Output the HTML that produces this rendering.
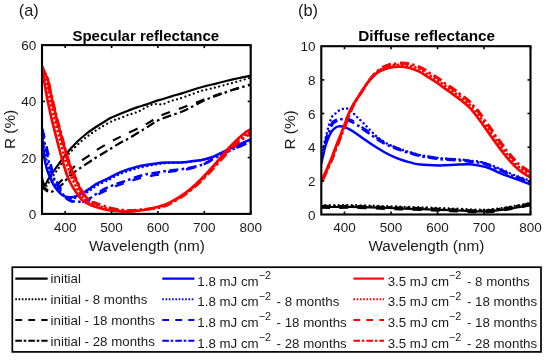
<!DOCTYPE html>
<html><head><meta charset="utf-8"><style>
html,body{margin:0;padding:0;background:#fff;width:550px;height:360px;overflow:hidden}
svg{display:block;filter:blur(0.35px)}
text{font-family:"Liberation Sans",sans-serif;fill:#1a1a1a}
.tk{font-size:13.5px}
.ax{font-size:15.3px}
.tt{font-size:15px;font-weight:bold;fill:#000}
.pl{font-size:16.4px}
.lg{font-size:13.3px}
.sup{font-size:10.8px}
</style></head><body>
<svg width="550" height="360" viewBox="0 0 550 360">
<defs><clipPath id="ca"><rect x="42.0" y="45.1" width="208.7" height="168.8"/></clipPath><clipPath id="cb"><rect x="321.3" y="46.2" width="209.2" height="168.3"/></clipPath></defs>
<g fill="none" stroke-width="2.2" stroke-linejoin="round">
<g clip-path="url(#ca)"><path d="M42.0,177.5 C42.2,178.5 43.0,182.0 43.5,183.3 C44.0,184.6 44.2,185.2 44.7,185.2 C45.2,185.2 45.5,184.4 46.2,183.2 C46.9,182.0 47.8,179.9 49.0,178.0 C50.2,176.1 52.0,173.5 53.3,171.6 C54.6,169.7 55.8,168.1 57.0,166.4 C58.2,164.7 59.0,163.7 60.6,161.5 C62.2,159.3 64.0,156.4 66.7,153.2 C69.4,150.0 73.4,145.5 76.7,142.2 C80.0,139.0 83.4,136.1 86.7,133.5 C90.0,130.9 93.8,128.4 96.7,126.5 C99.6,124.6 101.8,123.4 104.0,122.0 C106.2,120.6 107.7,119.5 110.0,118.3 C112.3,117.1 115.0,116.1 118.0,114.8 C121.0,113.5 124.8,111.9 128.0,110.7 C131.2,109.5 134.0,108.4 137.0,107.4 C140.0,106.4 143.0,105.6 146.0,104.6 C149.0,103.6 152.0,102.4 155.0,101.4 C158.0,100.4 161.2,99.6 164.0,98.7 C166.8,97.8 169.2,96.9 172.0,96.1 C174.8,95.2 178.0,94.5 181.0,93.6 C184.0,92.7 187.5,91.6 190.0,90.8 C192.5,90.0 193.5,89.5 196.0,88.7 C198.5,87.9 201.7,87.1 205.0,86.2 C208.3,85.3 212.7,84.4 216.0,83.6 C219.3,82.8 221.8,82.1 225.0,81.3 C228.2,80.5 231.7,79.7 235.0,78.9 C238.3,78.2 242.3,77.3 245.0,76.8 C247.7,76.3 250.0,75.9 251.0,75.7" stroke="#000" /><path d="M42.0,180.0 C42.3,180.9 43.4,184.2 44.0,185.3 C44.6,186.4 45.0,186.6 45.5,186.6 C46.0,186.6 46.5,186.2 47.2,185.2 C48.0,184.2 48.7,182.6 50.0,180.6 C51.3,178.6 53.3,175.7 55.0,173.3 C56.7,170.9 58.3,168.5 60.0,166.0 C61.7,163.5 63.3,160.7 65.0,158.5 C66.7,156.3 67.5,155.2 70.0,152.5 C72.5,149.9 76.7,145.4 80.0,142.4 C83.3,139.4 86.7,136.8 90.0,134.4 C93.3,132.0 96.3,130.1 100.0,127.9 C103.7,125.7 108.7,122.7 112.0,121.1 C115.3,119.5 117.2,119.3 120.0,118.2 C122.8,117.1 126.5,115.5 128.7,114.7 C130.9,113.9 131.6,114.0 133.0,113.5 C134.4,113.0 135.9,112.6 137.3,112.0 C138.7,111.4 140.0,110.7 141.3,110.0 C142.6,109.3 144.0,108.4 145.3,107.7 C146.6,107.0 148.0,106.3 149.3,105.7 C150.6,105.1 151.9,104.6 153.3,104.3 C154.8,104.0 156.5,104.0 158.0,104.0 C159.5,104.0 160.9,104.6 162.3,104.4 C163.7,104.2 164.9,103.4 166.3,102.8 C167.8,102.2 169.5,101.5 171.0,101.0 C172.5,100.5 173.9,100.3 175.3,99.9 C176.8,99.5 177.2,99.4 179.7,98.6 C182.1,97.8 186.4,96.2 190.0,94.9 C193.6,93.6 197.7,92.0 201.0,91.0 C204.3,90.0 207.7,89.4 210.0,88.8 C212.3,88.2 212.5,88.2 215.0,87.6 C217.5,86.9 221.7,85.8 225.0,84.9 C228.3,84.0 231.7,83.2 235.0,82.3 C238.3,81.4 242.3,80.2 245.0,79.4 C247.7,78.6 250.0,77.9 251.0,77.6" stroke="#000" stroke-dasharray="0.01 4.4" stroke-linecap="round"/><path d="M42.0,184.0 C42.3,184.6 43.2,186.4 44.0,187.3 C44.8,188.2 45.7,189.0 46.5,189.5 C47.3,190.0 48.2,190.2 49.0,190.2 C49.8,190.2 50.6,190.0 51.5,189.5 C52.4,189.0 53.5,188.0 54.5,187.2 C55.5,186.4 56.2,185.7 57.5,184.5 C58.8,183.3 60.2,181.7 62.0,180.0 C63.8,178.3 65.5,177.2 68.0,174.5 C70.5,171.8 73.6,166.9 76.7,164.0 C79.8,161.1 83.6,159.4 86.7,157.2 C89.8,155.0 91.4,153.3 95.6,150.7 C99.8,148.0 106.6,144.1 111.6,141.3 C116.6,138.6 120.2,136.9 125.8,134.2 C131.4,131.4 139.3,127.8 145.0,124.8 C150.7,121.8 154.0,118.8 160.0,116.0 C166.0,113.2 175.2,110.4 181.0,108.2 C186.8,106.0 191.0,104.5 195.0,103.0 C199.0,101.5 201.7,100.2 205.0,99.0 C208.3,97.8 211.7,96.7 215.0,95.6 C218.3,94.5 221.7,93.3 225.0,92.2 C228.3,91.1 231.7,90.0 235.0,89.0 C238.3,88.0 242.3,86.8 245.0,86.0 C247.7,85.2 250.0,84.6 251.0,84.3" stroke="#000" stroke-dasharray="9 9.3"/><path d="M42.0,185.0 C42.3,185.6 43.2,187.5 44.0,188.5 C44.8,189.5 46.0,190.4 47.0,191.0 C48.0,191.6 49.0,191.8 50.0,191.8 C51.0,191.8 51.8,191.7 53.0,191.2 C54.2,190.7 55.5,190.1 57.0,189.0 C58.5,187.9 60.3,186.2 62.0,184.5 C63.7,182.8 65.1,180.9 67.0,179.0 C68.9,177.1 70.6,175.2 73.3,173.0 C76.0,170.8 79.6,168.5 83.3,166.0 C87.0,163.5 91.9,160.1 95.6,157.8 C99.3,155.5 102.3,153.8 105.3,152.0 C108.2,150.2 110.6,148.7 113.3,147.1 C116.0,145.5 118.8,143.6 121.3,142.2 C123.8,140.8 124.0,141.1 128.0,138.8 C131.9,136.5 139.7,131.7 145.0,128.5 C150.3,125.3 154.0,122.2 160.0,119.5 C166.0,116.8 175.5,114.2 181.0,112.0 C186.5,109.8 189.0,108.3 193.0,106.3 C197.0,104.3 201.3,101.7 205.0,100.0 C208.7,98.3 211.7,97.4 215.0,96.2 C218.3,95.0 221.7,93.8 225.0,92.6 C228.3,91.4 231.7,90.3 235.0,89.3 C238.3,88.2 242.3,87.1 245.0,86.3 C247.7,85.5 250.0,85.0 251.0,84.7" stroke="#000" stroke-dasharray="9 3.2 2.6 3.5"/><path d="M42.3,136.0 C42.4,137.2 42.6,140.7 42.8,143.0 C43.0,145.3 43.1,147.7 43.4,150.0 C43.6,152.3 44.0,154.8 44.3,157.0 C44.6,159.2 44.9,160.8 45.4,163.0 C45.9,165.2 46.5,167.8 47.2,170.0 C47.9,172.2 48.5,173.8 49.4,176.0 C50.3,178.2 51.6,181.2 52.5,183.0 C53.4,184.8 54.2,185.8 55.0,187.0 C55.8,188.2 56.4,189.0 57.2,190.0 C58.0,191.0 59.0,192.1 60.0,193.0 C61.0,193.9 62.0,194.9 63.0,195.5 C64.0,196.1 65.0,196.5 66.0,196.8 C67.0,197.1 68.0,197.2 69.0,197.3 C70.0,197.4 70.9,197.3 72.0,197.2 C73.1,197.1 74.2,196.9 75.5,196.5 C76.8,196.1 78.0,195.5 79.8,194.6 C81.6,193.7 84.2,192.1 86.2,190.9 C88.2,189.7 89.9,188.5 91.6,187.3 C93.3,186.1 93.7,185.3 96.5,183.8 C99.3,182.3 104.4,180.2 108.3,178.3 C112.2,176.4 116.4,173.9 120.0,172.3 C123.6,170.7 126.7,169.9 130.0,168.8 C133.3,167.8 135.7,166.9 140.0,166.0 C144.3,165.1 151.3,164.0 156.0,163.4 C160.7,162.8 163.3,162.7 168.0,162.5 C172.7,162.3 178.8,162.5 183.9,162.2 C189.0,161.9 195.1,161.0 198.6,160.5 C202.1,160.0 202.4,159.9 205.0,159.2 C207.6,158.5 210.7,157.9 214.0,156.5 C217.3,155.1 220.7,153.1 225.0,151.0 C229.3,148.9 235.7,146.2 240.0,144.2 C244.3,142.2 249.2,140.0 251.0,139.2" stroke="#0000ff" stroke-width="2.5" /><path d="M42.3,133.4 C42.4,134.5 42.8,137.7 43.1,139.8 C43.4,142.0 43.6,144.1 44.0,146.5 C44.3,148.9 44.9,152.1 45.3,154.6 C45.8,157.0 46.2,159.0 46.7,161.2 C47.2,163.5 47.8,166.0 48.5,168.2 C49.1,170.5 49.8,172.4 50.6,174.6 C51.4,176.8 52.5,179.5 53.4,181.4 C54.4,183.4 55.4,184.9 56.3,186.3 C57.1,187.7 57.7,188.8 58.6,190.0 C59.5,191.2 60.6,192.8 61.5,193.8 C62.4,194.8 63.1,195.6 64.0,196.2 C64.9,196.8 66.0,197.3 67.0,197.6 C68.0,197.9 69.0,198.1 70.0,198.2 C71.0,198.3 71.9,198.3 73.0,198.2 C74.1,198.1 75.2,198.0 76.5,197.6 C77.8,197.2 78.8,196.8 80.5,196.0 C82.2,195.2 84.8,193.7 86.7,192.5 C88.6,191.3 90.3,190.2 92.0,189.0 C93.7,187.8 94.3,187.0 97.0,185.5 C99.7,184.0 104.5,181.9 108.3,180.0 C112.1,178.1 116.4,175.6 120.0,174.0 C123.6,172.4 126.7,171.5 130.0,170.4 C133.3,169.3 135.7,168.5 140.0,167.5 C144.3,166.5 151.3,165.2 156.0,164.4 C160.7,163.7 163.3,163.3 168.0,163.0 C172.7,162.7 178.8,162.8 183.9,162.4 C189.0,162.0 195.1,161.1 198.6,160.6 C202.1,160.1 202.4,160.0 205.0,159.3 C207.6,158.6 210.7,157.9 214.0,156.6 C217.3,155.2 220.7,153.2 225.0,151.2 C229.3,149.2 235.7,146.4 240.0,144.5 C244.3,142.6 249.2,140.3 251.0,139.5" stroke="#0000ff" stroke-width="2.5" stroke-dasharray="0.01 4.4" stroke-linecap="round"/><path d="M42.3,128.5 C42.5,129.4 43.1,132.1 43.6,134.0 C44.1,135.9 44.4,137.3 45.0,140.0 C45.6,142.7 46.6,147.0 47.3,150.0 C48.0,153.0 48.6,155.5 49.2,158.0 C49.8,160.5 50.2,162.7 50.8,165.0 C51.4,167.3 52.1,169.8 52.8,172.0 C53.5,174.2 54.2,176.3 55.2,178.5 C56.2,180.7 57.6,183.1 58.6,185.0 C59.6,186.9 60.5,188.4 61.2,190.0 C61.9,191.6 62.2,193.0 63.0,194.3 C63.8,195.6 65.0,197.0 66.0,198.0 C67.0,199.0 68.0,199.7 69.0,200.3 C70.0,200.9 70.8,201.2 72.0,201.6 C73.2,202.0 74.7,202.3 76.0,202.4 C77.3,202.6 78.6,202.6 80.0,202.4 C81.4,202.2 82.8,202.1 84.4,201.6 C86.0,201.0 87.8,200.3 89.8,199.3 C91.8,198.3 93.7,196.9 96.2,195.5 C98.7,194.1 101.9,192.3 105.0,190.8 C108.1,189.3 111.7,187.8 115.0,186.5 C118.3,185.2 121.7,184.1 125.0,182.9 C128.3,181.8 131.7,180.6 135.0,179.6 C138.3,178.6 141.5,177.7 145.0,176.9 C148.5,176.2 152.2,175.7 156.0,174.9 C159.8,174.1 163.5,172.8 168.0,172.0 C172.5,171.2 177.9,170.9 183.0,170.0 C188.1,169.1 194.9,167.4 198.6,166.3 C202.3,165.2 203.0,164.6 205.0,163.7 C207.0,162.7 207.5,162.4 210.4,160.8 C213.3,159.2 218.3,156.2 222.2,154.2 C226.1,152.2 230.1,150.6 234.0,148.9 C237.9,147.2 243.0,145.0 245.8,143.9 C248.6,142.8 250.1,142.6 251.0,142.4" stroke="#0000ff" stroke-width="2.5" stroke-dasharray="9 9.3"/><path d="M42.3,130.4 C42.5,131.4 43.0,134.2 43.4,136.2 C43.8,138.3 44.1,139.9 44.6,142.5 C45.1,145.1 45.9,149.0 46.5,151.8 C47.2,154.5 47.7,156.8 48.2,159.2 C48.8,161.7 49.3,164.0 49.9,166.2 C50.5,168.5 51.2,170.8 51.9,173.0 C52.7,175.2 53.6,177.5 54.5,179.6 C55.5,181.7 56.8,183.8 57.7,185.5 C58.6,187.2 59.4,188.6 60.2,190.0 C61.1,191.4 61.9,192.8 62.8,194.0 C63.7,195.2 64.8,196.5 65.8,197.4 C66.8,198.3 67.8,199.0 68.8,199.6 C69.8,200.2 70.6,200.5 71.8,200.9 C73.0,201.3 74.5,201.6 75.8,201.7 C77.1,201.9 78.4,201.9 79.8,201.7 C81.2,201.5 82.7,201.3 84.4,200.8 C86.1,200.2 87.8,199.4 89.8,198.3 C91.8,197.2 93.7,195.6 96.2,194.0 C98.7,192.4 101.9,190.3 105.0,188.7 C108.1,187.1 111.7,185.8 115.0,184.5 C118.3,183.2 121.7,182.3 125.0,181.1 C128.3,180.0 131.7,178.6 135.0,177.5 C138.3,176.4 141.5,175.3 145.0,174.5 C148.5,173.7 152.2,173.4 156.0,172.7 C159.8,172.1 163.5,171.2 168.0,170.6 C172.5,170.0 177.9,169.8 183.0,169.0 C188.1,168.2 194.9,166.8 198.6,165.8 C202.3,164.8 203.0,164.1 205.0,163.2 C207.0,162.4 207.5,162.1 210.4,160.5 C213.3,159.0 218.3,156.0 222.2,154.0 C226.1,152.1 230.1,150.5 234.0,148.8 C237.9,147.1 243.0,144.8 245.8,143.7 C248.6,142.6 250.1,142.4 251.0,142.2" stroke="#0000ff" stroke-width="2.5" stroke-dasharray="9 3.2 2.6 3.5"/><path d="M42.0,66.4 C42.2,67.0 42.4,67.7 43.4,70.0 C44.4,72.3 46.8,76.7 47.9,80.0 C49.0,83.3 49.2,86.7 49.9,90.0 C50.7,93.3 51.4,96.7 52.2,100.0 C53.0,103.3 53.8,106.7 54.6,110.0 C55.4,113.3 55.7,115.0 57.0,120.0 C58.3,125.0 60.6,133.3 62.4,140.0 C64.3,146.7 66.1,154.2 68.0,160.0 C69.9,165.8 72.2,171.2 73.8,175.0 C75.4,178.8 76.2,180.5 77.4,183.0 C78.6,185.5 78.9,187.2 80.8,190.0 C82.6,192.8 87.1,198.3 88.4,200.0" stroke="#ff0000" stroke-width="2.7" /><path d="M42.0,67.5 C42.0,67.9 41.9,67.9 42.2,70.0 C42.5,72.1 43.4,76.7 44.0,80.0 C44.6,83.3 45.1,86.7 45.7,90.0 C46.3,93.3 46.8,96.7 47.5,100.0 C48.2,103.3 49.0,106.7 49.7,110.0 C50.4,113.3 50.7,115.0 51.9,120.0 C53.1,125.0 55.3,133.3 57.0,140.0 C58.7,146.7 60.6,154.2 62.3,160.0 C64.0,165.8 65.6,171.2 67.0,175.0 C68.4,178.8 69.2,180.5 70.5,183.0 C71.8,185.5 72.7,187.2 74.6,190.0 C76.5,192.8 79.5,197.5 82.1,200.0 C84.7,202.5 87.0,203.4 90.0,204.8 C93.0,206.2 96.7,207.4 100.0,208.3 C103.3,209.2 106.7,209.9 110.0,210.4 C113.3,210.9 116.7,211.2 120.0,211.4 C123.3,211.6 126.7,211.8 130.0,211.6 C133.3,211.4 136.7,211.0 140.0,210.5 C143.3,210.0 146.7,209.4 150.0,208.7 C153.3,208.0 157.0,207.1 160.0,206.2 C163.0,205.3 164.7,205.1 168.0,203.5 C171.3,201.9 176.2,199.2 180.0,196.7 C183.8,194.2 187.3,191.6 191.0,188.5 C194.7,185.4 198.1,182.2 202.0,178.2 C205.9,174.3 210.7,169.1 214.5,164.7 C218.3,160.4 221.6,156.0 225.0,152.2 C228.4,148.4 231.7,144.9 235.0,141.7 C238.3,138.5 242.3,134.9 245.0,132.8 C247.7,130.8 250.0,129.8 251.0,129.2" stroke="#ff0000" stroke-width="2.7" /><path d="M42.0,66.9 C42.1,67.4 42.2,67.8 42.9,70.0 C43.5,72.2 45.2,76.7 46.1,80.0 C47.0,83.3 47.3,86.7 48.0,90.0 C48.7,93.3 49.3,96.7 50.0,100.0 C50.8,103.3 51.6,106.7 52.4,110.0 C53.1,113.3 53.4,115.0 54.6,120.0 C55.9,125.0 58.2,133.3 60.0,140.0 C61.7,146.7 63.6,154.2 65.4,160.0 C67.2,165.8 69.2,171.2 70.7,175.0 C72.2,178.8 73.0,180.5 74.2,183.0 C75.5,185.5 76.1,187.2 77.9,190.0 C79.8,192.8 83.0,197.7 85.5,200.0 C88.0,202.3 90.1,202.8 92.8,203.9 C95.4,205.1 98.5,206.0 101.5,206.9 C104.5,207.8 107.8,208.7 111.0,209.3 C114.2,209.9 117.8,210.4 121.0,210.7 C124.2,211.0 127.3,211.1 130.5,211.0 C133.7,210.9 136.8,210.5 140.0,210.1 C143.2,209.7 146.7,209.4 150.0,208.8 C153.3,208.2 157.0,207.6 160.0,206.8 C163.0,206.0 164.7,205.7 168.0,204.1 C171.3,202.5 176.2,199.8 180.0,197.3 C183.8,194.8 187.3,192.3 191.0,189.2 C194.7,186.2 198.1,183.1 202.0,179.2 C205.9,175.4 210.7,170.2 214.5,166.0 C218.3,161.7 221.6,157.6 225.0,153.8 C228.4,150.1 231.7,146.8 235.0,143.7 C238.3,140.6 242.3,137.1 245.0,135.1 C247.7,133.1 250.0,132.3 251.0,131.8" stroke="#ff0000" stroke-width="2.7" stroke-dasharray="0.01 4.4" stroke-linecap="round"/><path d="M42.0,66.5 C42.2,67.1 42.4,67.7 43.3,70.0 C44.2,72.3 46.5,76.7 47.6,80.0 C48.6,83.3 48.9,86.7 49.6,90.0 C50.3,93.3 51.1,96.7 51.8,100.0 C52.6,103.3 53.4,106.7 54.2,110.0 C55.0,113.3 55.3,115.0 56.6,120.0 C57.9,125.0 60.2,133.3 62.0,140.0 C63.8,146.7 65.6,154.2 67.5,160.0 C69.4,165.8 71.7,171.2 73.3,175.0 C74.8,178.8 75.7,180.5 76.9,183.0 C78.0,185.5 78.5,187.2 80.3,190.0 C82.1,192.8 85.5,197.8 87.9,200.0 C90.3,202.2 92.2,202.3 94.7,203.3 C97.1,204.3 99.7,205.0 102.5,205.9 C105.4,206.8 108.5,207.8 111.7,208.5 C114.9,209.2 118.5,209.9 121.7,210.2 C124.9,210.6 127.8,210.6 130.8,210.6 C133.9,210.5 136.8,210.1 140.0,209.8 C143.2,209.5 146.7,209.3 150.0,208.9 C153.3,208.4 157.0,207.9 160.0,207.2 C163.0,206.5 164.7,206.1 168.0,204.5 C171.3,202.9 176.2,200.2 180.0,197.7 C183.8,195.3 187.3,192.7 191.0,189.8 C194.7,186.8 198.1,183.8 202.0,179.9 C205.9,176.1 210.7,171.0 214.5,166.8 C218.3,162.7 221.6,158.6 225.0,155.0 C228.4,151.4 231.7,148.2 235.0,145.1 C238.3,142.0 242.3,138.6 245.0,136.7 C247.7,134.7 250.0,134.0 251.0,133.5" stroke="#ff0000" stroke-width="2.7" stroke-dasharray="9 9.3"/><path d="M42.0,66.3 C42.2,66.9 42.5,67.7 43.5,70.0 C44.5,72.3 47.1,76.7 48.2,80.0 C49.3,83.3 49.6,86.7 50.3,90.0 C51.0,93.3 51.8,96.7 52.6,100.0 C53.4,103.3 54.2,106.7 55.0,110.0 C55.8,113.3 56.1,115.0 57.4,120.0 C58.7,125.0 61.1,133.3 62.9,140.0 C64.7,146.7 66.5,154.2 68.5,160.0 C70.4,165.8 72.8,171.2 74.4,175.0 C76.0,178.8 76.8,180.5 78.0,183.0 C79.2,185.5 79.5,187.2 81.3,190.0 C83.1,192.8 86.5,197.8 88.9,200.0 C91.3,202.2 93.2,202.1 95.5,203.0 C97.8,203.9 100.2,204.6 103.0,205.5 C105.8,206.4 108.8,207.4 112.0,208.2 C115.2,208.9 118.8,209.6 122.0,210.0 C125.2,210.4 128.0,210.5 131.0,210.4 C134.0,210.3 136.8,209.9 140.0,209.7 C143.2,209.4 146.7,209.3 150.0,208.9 C153.3,208.5 157.0,208.1 160.0,207.4 C163.0,206.7 164.7,206.3 168.0,204.7 C171.3,203.1 176.2,200.3 180.0,197.9 C183.8,195.5 187.3,192.9 191.0,190.0 C194.7,187.1 198.1,184.0 202.0,180.2 C205.9,176.5 210.7,171.3 214.5,167.2 C218.3,163.1 221.6,159.1 225.0,155.5 C228.4,151.9 231.7,148.7 235.0,145.7 C238.3,142.7 242.3,139.3 245.0,137.3 C247.7,135.4 250.0,134.8 251.0,134.2" stroke="#ff0000" stroke-width="2.7" stroke-dasharray="9 3.2 2.6 3.5"/></g>
<g clip-path="url(#cb)"><path d="M321.0,206.8 C323.3,206.8 330.2,207.0 335.0,207.0 C339.8,207.0 344.2,206.8 350.0,206.9 C355.8,207.0 361.7,207.2 370.0,207.4 C378.3,207.7 390.3,208.1 400.0,208.4 C409.7,208.7 419.7,209.0 428.0,209.3 C436.3,209.6 442.0,209.9 450.0,210.2 C458.0,210.5 469.3,211.1 476.0,211.3 C482.7,211.5 485.2,211.6 490.0,211.2 C494.8,210.9 500.0,210.1 505.0,209.4 C510.0,208.7 515.7,207.6 520.0,206.8 C524.3,206.0 529.2,205.0 531.0,204.6" stroke="#000" /><path d="M321.0,205.0 C323.3,205.0 330.2,205.2 335.0,205.2 C339.8,205.2 344.2,205.0 350.0,205.1 C355.8,205.2 361.7,205.3 370.0,205.6 C378.3,205.8 390.3,206.3 400.0,206.6 C409.7,206.9 419.7,207.2 428.0,207.5 C436.3,207.8 442.0,208.1 450.0,208.4 C458.0,208.7 469.3,209.3 476.0,209.5 C482.7,209.7 485.2,209.7 490.0,209.4 C494.8,209.1 500.0,208.2 505.0,207.5 C510.0,206.7 515.7,205.7 520.0,204.9 C524.3,204.1 529.2,203.1 531.0,202.7" stroke="#000" stroke-dasharray="0.01 4.4" stroke-linecap="round"/><path d="M321.0,207.7 C323.3,207.7 330.2,207.9 335.0,207.9 C339.8,207.9 344.2,207.7 350.0,207.8 C355.8,207.9 361.7,208.1 370.0,208.3 C378.3,208.6 390.3,209.0 400.0,209.3 C409.7,209.6 419.7,209.9 428.0,210.2 C436.3,210.5 442.0,210.8 450.0,211.1 C458.0,211.4 469.3,212.1 476.0,212.2 C482.7,212.4 485.2,212.4 490.0,212.0 C494.8,211.6 500.0,210.8 505.0,210.0 C510.0,209.2 515.7,208.2 520.0,207.4 C524.3,206.6 529.2,205.6 531.0,205.2" stroke="#000" stroke-dasharray="9 9.3"/><path d="M321.0,205.9 C323.3,205.9 330.2,206.1 335.0,206.1 C339.8,206.1 344.2,205.9 350.0,206.0 C355.8,206.1 361.7,206.2 370.0,206.5 C378.3,206.8 390.3,207.2 400.0,207.5 C409.7,207.8 419.7,208.1 428.0,208.4 C436.3,208.7 442.0,209.0 450.0,209.3 C458.0,209.6 469.3,210.3 476.0,210.4 C482.7,210.5 485.2,210.5 490.0,210.1 C494.8,209.7 500.0,208.8 505.0,208.0 C510.0,207.2 515.7,206.2 520.0,205.4 C524.3,204.6 529.2,203.6 531.0,203.2" stroke="#000" stroke-dasharray="9 3.2 2.6 3.5"/><path d="M321.0,164.5 C321.3,163.1 322.3,159.0 323.0,156.0 C323.7,153.0 324.4,149.6 325.3,146.5 C326.2,143.4 327.4,140.0 328.5,137.5 C329.6,135.0 330.7,132.9 331.8,131.3 C332.9,129.7 333.9,128.8 335.0,128.0 C336.1,127.2 337.3,126.7 338.5,126.4 C339.7,126.1 340.8,126.3 342.0,126.4 C343.2,126.6 344.2,126.9 345.5,127.4 C346.8,128.0 348.4,128.8 350.0,129.7 C351.6,130.6 353.3,131.6 355.0,132.7 C356.7,133.8 358.3,135.0 360.0,136.2 C361.7,137.4 362.5,138.1 365.0,139.8 C367.5,141.6 371.7,144.4 375.0,146.5 C378.3,148.6 381.7,150.6 385.0,152.5 C388.3,154.3 391.7,156.0 395.0,157.4 C398.3,158.8 400.8,159.8 405.0,161.0 C409.2,162.2 414.2,163.9 420.0,164.6 C425.8,165.3 434.2,165.4 440.0,165.4 C445.8,165.4 450.0,164.9 455.0,164.7 C460.0,164.5 465.8,164.1 470.0,164.3 C474.2,164.5 476.7,165.1 480.0,165.8 C483.3,166.5 486.7,167.2 490.0,168.5 C493.3,169.7 496.7,171.7 500.0,173.1 C503.3,174.5 506.7,175.7 510.0,176.9 C513.3,178.1 516.5,179.2 520.0,180.4 C523.5,181.7 529.2,183.9 531.0,184.6" stroke="#0000ff" stroke-width="2.5" /><path d="M321.0,159.0 C321.3,157.4 322.3,152.8 323.0,149.5 C323.7,146.2 324.3,143.1 325.3,139.0 C326.3,134.9 327.9,128.8 329.0,125.0 C330.1,121.2 331.1,118.3 332.2,116.4 C333.3,114.5 334.5,114.4 335.6,113.4 C336.7,112.4 337.7,111.3 338.9,110.6 C340.1,109.8 341.5,109.3 342.8,108.9 C344.1,108.5 345.4,108.1 346.7,108.4 C348.0,108.7 349.4,109.7 350.6,110.6 C351.8,111.5 352.8,112.7 353.9,113.8 C355.0,114.9 356.1,116.1 357.2,117.2 C358.3,118.3 359.4,119.2 360.6,120.4 C361.8,121.5 363.2,122.9 364.4,124.1 C365.6,125.3 366.5,126.3 367.8,127.6 C369.1,129.0 370.8,130.7 372.2,132.1 C373.6,133.5 373.9,134.1 376.0,135.9 C378.1,137.6 381.8,140.6 385.0,142.5 C388.2,144.4 391.7,145.9 395.0,147.2 C398.3,148.6 400.8,149.4 405.0,150.7 C409.2,152.0 414.2,153.7 420.0,155.0 C425.8,156.3 433.3,157.4 440.0,158.2 C446.7,158.9 455.0,159.1 460.0,159.5 C465.0,159.9 466.7,160.3 470.0,160.7 C473.3,161.1 476.7,161.1 480.0,161.8 C483.3,162.5 486.7,163.7 490.0,164.8 C493.3,166.0 496.7,167.3 500.0,168.7 C503.3,170.1 506.7,171.9 510.0,173.3 C513.3,174.7 516.5,175.9 520.0,177.2 C523.5,178.5 529.2,180.3 531.0,180.9" stroke="#0000ff" stroke-width="2.5" stroke-dasharray="0.01 4.4" stroke-linecap="round"/><path d="M321.0,161.0 C321.3,159.5 322.2,155.6 323.0,152.0 C323.8,148.4 324.9,143.3 326.0,139.5 C327.1,135.7 328.4,131.8 329.5,129.0 C330.6,126.2 331.5,124.0 332.5,122.5 C333.5,121.0 334.6,120.9 335.6,120.2 C336.6,119.5 337.6,118.9 338.5,118.5 C339.4,118.1 340.1,117.7 341.1,117.6 C342.1,117.5 343.2,117.6 344.4,117.8 C345.5,118.0 346.7,118.3 348.0,118.8 C349.3,119.3 350.6,119.8 352.2,120.6 C353.8,121.4 355.9,122.6 357.8,123.9 C359.7,125.2 361.5,126.9 363.3,128.2 C365.1,129.5 367.0,130.6 368.9,131.9 C370.8,133.1 372.5,134.5 374.4,135.8 C376.2,137.2 377.4,138.4 380.0,139.9 C382.6,141.5 386.7,143.6 390.0,145.1 C393.3,146.6 396.7,148.0 400.0,149.2 C403.3,150.4 406.7,151.4 410.0,152.4 C413.3,153.4 415.0,154.2 420.0,155.2 C425.0,156.2 433.3,157.7 440.0,158.4 C446.7,159.1 455.0,159.2 460.0,159.6 C465.0,160.0 466.7,160.5 470.0,160.9 C473.3,161.3 476.7,161.3 480.0,162.0 C483.3,162.7 486.7,163.9 490.0,165.1 C493.3,166.3 496.7,167.9 500.0,169.4 C503.3,170.9 506.7,172.6 510.0,174.0 C513.3,175.4 516.5,176.7 520.0,178.0 C523.5,179.3 529.2,181.3 531.0,182.0" stroke="#0000ff" stroke-width="2.5" stroke-dasharray="9 9.3"/><path d="M321.0,162.0 C321.3,160.5 322.2,156.5 323.0,153.0 C323.8,149.5 324.9,144.8 326.0,141.0 C327.1,137.2 328.4,133.3 329.5,130.5 C330.6,127.7 331.5,125.5 332.5,124.0 C333.5,122.5 334.6,122.4 335.6,121.7 C336.6,121.0 337.6,120.4 338.5,120.0 C339.4,119.6 340.1,119.3 341.1,119.2 C342.1,119.1 343.2,119.2 344.4,119.4 C345.5,119.6 346.7,119.9 348.0,120.4 C349.3,120.9 350.6,121.4 352.2,122.2 C353.8,123.0 355.9,124.2 357.8,125.4 C359.7,126.6 361.5,128.3 363.3,129.6 C365.1,130.9 367.0,132.0 368.9,133.3 C370.8,134.5 372.5,135.8 374.4,137.1 C376.2,138.5 377.4,139.6 380.0,141.2 C382.6,142.7 386.7,144.7 390.0,146.2 C393.3,147.7 396.7,148.9 400.0,150.1 C403.3,151.3 406.7,152.3 410.0,153.2 C413.3,154.2 415.0,155.0 420.0,156.0 C425.0,157.0 433.3,158.4 440.0,159.2 C446.7,159.9 455.0,160.1 460.0,160.5 C465.0,160.9 466.7,161.3 470.0,161.7 C473.3,162.1 476.7,162.1 480.0,162.8 C483.3,163.5 486.7,164.6 490.0,165.8 C493.3,167.1 496.7,168.8 500.0,170.3 C503.3,171.8 506.7,173.4 510.0,174.8 C513.3,176.2 516.5,177.5 520.0,178.8 C523.5,180.1 529.2,182.1 531.0,182.8" stroke="#0000ff" stroke-width="2.5" stroke-dasharray="9 3.2 2.6 3.5"/><path d="M320.7,182.9 C321.1,181.9 322.3,179.1 323.3,176.9 C324.3,174.7 325.4,172.5 326.6,169.9 C327.7,167.3 329.0,164.3 330.2,161.4 C331.4,158.5 332.5,155.6 333.7,152.4 C334.9,149.2 336.2,145.6 337.5,142.4 C338.8,139.2 339.9,136.7 341.2,133.4 C342.5,130.1 344.0,126.1 345.4,122.4 C346.8,118.7 348.3,114.5 349.7,111.4 C351.1,108.3 352.3,106.2 353.7,103.9 C355.1,101.6 356.6,99.4 357.9,97.4 C359.2,95.4 360.4,93.7 361.5,91.9 C362.6,90.2 363.6,88.6 364.7,86.9 C365.8,85.2 366.6,84.0 368.3,81.9 C370.0,79.9 373.0,76.5 375.1,74.6 C377.2,72.7 378.4,71.8 380.7,70.7 C383.0,69.6 385.7,68.6 388.7,67.9 C391.7,67.2 395.4,66.7 398.7,66.7 C402.0,66.7 405.4,66.9 408.7,67.7 C412.0,68.5 415.4,69.8 418.7,71.4 C422.0,73.0 425.4,75.3 428.7,77.4 C432.0,79.5 435.4,81.6 438.7,83.9 C442.0,86.2 445.4,88.8 448.7,91.2 C452.0,93.6 455.2,95.7 458.7,98.4 C462.1,101.1 465.9,103.8 469.4,107.4 C472.9,111.0 476.5,115.9 479.7,120.2 C482.9,124.4 485.9,128.9 488.7,132.9 C491.5,136.9 494.2,140.7 496.7,144.1 C499.2,147.6 501.4,150.5 503.7,153.5 C506.0,156.5 508.2,159.2 510.7,161.9 C513.2,164.6 515.5,167.2 518.7,169.7 C521.9,172.2 527.9,176.0 529.7,177.2" stroke="#ff0000" stroke-width="2.7" /><path d="M322.0,181.0 C322.4,180.0 323.6,177.2 324.6,175.0 C325.6,172.8 326.8,170.6 327.9,168.0 C329.0,165.4 330.3,162.4 331.5,159.5 C332.7,156.6 333.8,153.7 335.0,150.5 C336.2,147.3 337.6,143.7 338.8,140.5 C340.1,137.3 341.2,134.8 342.5,131.5 C343.8,128.2 345.3,124.2 346.7,120.5 C348.1,116.8 349.6,112.6 351.0,109.5 C352.4,106.4 353.6,104.3 355.0,102.0 C356.4,99.7 357.9,97.5 359.2,95.5 C360.5,93.5 361.7,91.8 362.8,90.0 C363.9,88.2 364.9,86.7 366.0,85.0 C367.1,83.3 367.9,82.0 369.6,80.0 C371.3,78.0 374.3,74.6 376.4,72.7 C378.5,70.8 379.7,69.9 382.0,68.8 C384.3,67.7 387.0,66.7 390.0,66.0 C393.0,65.3 396.7,64.8 400.0,64.8 C403.3,64.8 406.7,65.0 410.0,65.8 C413.3,66.6 416.7,67.9 420.0,69.5 C423.3,71.1 426.7,73.4 430.0,75.5 C433.3,77.6 436.7,79.7 440.0,82.0 C443.3,84.3 446.7,86.9 450.0,89.3 C453.3,91.7 456.6,93.8 460.0,96.5 C463.4,99.2 467.2,101.9 470.7,105.5 C474.2,109.1 477.8,114.0 481.0,118.2 C484.2,122.5 487.2,127.0 490.0,131.0 C492.8,135.0 495.5,138.8 498.0,142.2 C500.5,145.7 502.7,148.6 505.0,151.6 C507.3,154.6 509.5,157.3 512.0,160.0 C514.5,162.7 516.8,165.3 520.0,167.8 C523.2,170.3 529.2,174.1 531.0,175.3" stroke="#ff0000" stroke-width="2.7" stroke-dasharray="0.01 4.4" stroke-linecap="round"/><path d="M323.3,179.1 C323.7,178.1 324.9,175.3 325.9,173.1 C326.9,170.9 328.1,168.7 329.2,166.1 C330.3,163.5 331.6,160.5 332.8,157.6 C334.0,154.7 335.1,151.8 336.3,148.6 C337.5,145.4 338.9,141.8 340.1,138.6 C341.4,135.4 342.5,132.9 343.8,129.6 C345.1,126.3 346.6,122.3 348.0,118.6 C349.4,114.9 350.9,110.7 352.3,107.6 C353.7,104.5 354.9,102.4 356.3,100.1 C357.7,97.8 359.2,95.6 360.5,93.6 C361.8,91.6 363.0,89.8 364.1,88.1 C365.2,86.3 366.2,84.8 367.3,83.1 C368.4,81.4 369.2,80.1 370.9,78.1 C372.6,76.0 375.6,72.7 377.7,70.8 C379.8,68.9 381.0,68.0 383.3,66.9 C385.6,65.8 388.3,64.8 391.3,64.1 C394.3,63.4 398.0,62.9 401.3,62.9 C404.6,62.9 408.0,63.1 411.3,63.9 C414.6,64.7 418.0,66.0 421.3,67.6 C424.6,69.2 428.0,71.5 431.3,73.6 C434.6,75.7 438.0,77.8 441.3,80.1 C444.6,82.4 448.0,85.0 451.3,87.4 C454.6,89.8 457.9,91.9 461.3,94.6 C464.8,97.3 468.5,100.0 472.0,103.6 C475.5,107.2 479.1,112.1 482.3,116.3 C485.5,120.6 488.5,125.1 491.3,129.1 C494.1,133.1 496.8,136.9 499.3,140.3 C501.8,143.8 504.0,146.7 506.3,149.7 C508.6,152.7 510.8,155.4 513.3,158.1 C515.8,160.8 518.1,163.4 521.3,165.9 C524.5,168.4 530.5,172.2 532.3,173.4" stroke="#ff0000" stroke-width="2.7" stroke-dasharray="9 9.3"/><path d="M323.0,179.5 C323.5,178.5 324.7,175.6 325.6,173.5 C326.6,171.3 327.8,169.1 328.9,166.5 C330.1,163.9 331.4,160.9 332.5,158.0 C333.7,155.1 334.8,152.1 336.0,149.0 C337.3,145.8 338.6,142.1 339.8,139.0 C341.1,135.8 342.2,133.3 343.5,130.0 C344.9,126.6 346.3,122.6 347.7,119.0 C349.2,115.3 350.7,111.1 352.0,108.0 C353.4,104.9 354.7,102.8 356.0,100.5 C357.4,98.1 358.9,96.0 360.2,94.0 C361.5,92.0 362.7,90.2 363.8,88.5 C365.0,86.7 365.9,85.1 367.0,83.5 C368.2,81.8 368.9,80.5 370.6,78.5 C372.4,76.4 375.4,73.0 377.4,71.2 C379.5,69.3 380.8,68.4 383.0,67.3 C385.3,66.2 388.0,65.1 391.0,64.5 C394.0,63.8 397.7,63.3 401.0,63.3 C404.4,63.2 407.7,63.5 411.0,64.3 C414.4,65.1 417.7,66.4 421.0,68.0 C424.4,69.6 427.7,71.9 431.0,74.0 C434.4,76.1 437.7,78.2 441.0,80.5 C444.4,82.8 447.7,85.4 451.0,87.8 C454.4,90.2 457.6,92.3 461.0,95.0 C464.5,97.7 468.2,100.4 471.7,104.0 C475.2,107.6 478.8,112.5 482.0,116.7 C485.3,121.0 488.2,125.5 491.0,129.5 C493.9,133.5 496.5,137.3 499.0,140.7 C501.5,144.1 503.7,147.1 506.0,150.1 C508.4,153.0 510.5,155.8 513.0,158.5 C515.5,161.2 517.9,163.7 521.0,166.3 C524.2,168.8 530.2,172.5 532.0,173.8" stroke="#ff0000" stroke-width="2.7" stroke-dasharray="9 3.2 2.6 3.5"/></g>
</g>
<g stroke="#000" stroke-width="1.6"><line x1="65.2" y1="213.9" x2="65.2" y2="210.9"/><line x1="65.2" y1="45.1" x2="65.2" y2="48.1"/><line x1="111.6" y1="213.9" x2="111.6" y2="210.9"/><line x1="111.6" y1="45.1" x2="111.6" y2="48.1"/><line x1="157.9" y1="213.9" x2="157.9" y2="210.9"/><line x1="157.9" y1="45.1" x2="157.9" y2="48.1"/><line x1="204.3" y1="213.9" x2="204.3" y2="210.9"/><line x1="204.3" y1="45.1" x2="204.3" y2="48.1"/><line x1="250.7" y1="213.9" x2="250.7" y2="210.9"/><line x1="250.7" y1="45.1" x2="250.7" y2="48.1"/><line x1="42.0" y1="157.6" x2="45.0" y2="157.6"/><line x1="250.7" y1="157.6" x2="247.7" y2="157.6"/><line x1="42.0" y1="101.4" x2="45.0" y2="101.4"/><line x1="250.7" y1="101.4" x2="247.7" y2="101.4"/><line x1="344.5" y1="214.5" x2="344.5" y2="211.5"/><line x1="344.5" y1="46.2" x2="344.5" y2="49.2"/><line x1="391.0" y1="214.5" x2="391.0" y2="211.5"/><line x1="391.0" y1="46.2" x2="391.0" y2="49.2"/><line x1="437.5" y1="214.5" x2="437.5" y2="211.5"/><line x1="437.5" y1="46.2" x2="437.5" y2="49.2"/><line x1="484.0" y1="214.5" x2="484.0" y2="211.5"/><line x1="484.0" y1="46.2" x2="484.0" y2="49.2"/><line x1="530.5" y1="214.5" x2="530.5" y2="211.5"/><line x1="530.5" y1="46.2" x2="530.5" y2="49.2"/><line x1="321.3" y1="180.8" x2="324.3" y2="180.8"/><line x1="530.5" y1="180.8" x2="527.5" y2="180.8"/><line x1="321.3" y1="147.2" x2="324.3" y2="147.2"/><line x1="530.5" y1="147.2" x2="527.5" y2="147.2"/><line x1="321.3" y1="113.5" x2="324.3" y2="113.5"/><line x1="530.5" y1="113.5" x2="527.5" y2="113.5"/><line x1="321.3" y1="79.9" x2="324.3" y2="79.9"/><line x1="530.5" y1="79.9" x2="527.5" y2="79.9"/></g>
<rect x="42.0" y="45.1" width="208.7" height="168.8" fill="none" stroke="#000" stroke-width="2.1"/><rect x="321.3" y="46.2" width="209.2" height="168.3" fill="none" stroke="#000" stroke-width="2.1"/>
<text x="65.2" y="232.3" text-anchor="middle" class="tk">400</text><text x="111.6" y="232.3" text-anchor="middle" class="tk">500</text><text x="157.9" y="232.3" text-anchor="middle" class="tk">600</text><text x="204.3" y="232.3" text-anchor="middle" class="tk">700</text><text x="250.7" y="232.3" text-anchor="middle" class="tk">800</text><text x="36.2" y="218.9" text-anchor="end" class="tk">0</text><text x="36.2" y="162.6" text-anchor="end" class="tk">20</text><text x="36.2" y="106.4" text-anchor="end" class="tk">40</text><text x="36.2" y="50.1" text-anchor="end" class="tk">60</text><text x="344.5" y="232.3" text-anchor="middle" class="tk">400</text><text x="391.0" y="232.3" text-anchor="middle" class="tk">500</text><text x="437.5" y="232.3" text-anchor="middle" class="tk">600</text><text x="484.0" y="232.3" text-anchor="middle" class="tk">700</text><text x="530.5" y="232.3" text-anchor="middle" class="tk">800</text><text x="315.5" y="219.5" text-anchor="end" class="tk">0</text><text x="315.5" y="185.8" text-anchor="end" class="tk">2</text><text x="315.5" y="152.2" text-anchor="end" class="tk">4</text><text x="315.5" y="118.5" text-anchor="end" class="tk">6</text><text x="315.5" y="84.9" text-anchor="end" class="tk">8</text><text x="315.5" y="51.2" text-anchor="end" class="tk">10</text>
<text x="89" y="250.9" class="ax">Wavelength (nm)</text>
<text x="368.4" y="250.9" class="ax">Wavelength (nm)</text>
<text transform="translate(15.2,149) rotate(-90)" class="ax">R (%)</text>
<text transform="translate(294.5,149.5) rotate(-90)" class="ax">R (%)</text>
<text x="72.4" y="40.6" class="tt">Specular reflectance</text>
<text x="358.2" y="40.6" class="tt" style="font-size:15.3px">Diffuse reflectance</text>
<text x="18.8" y="15.9" class="pl">(a)</text>
<text x="298" y="16.2" class="pl">(b)</text>
<rect x="12.3" y="267.2" width="528.7" height="84.7" fill="none" stroke="#000" stroke-width="1.7"/>
<g fill="none" stroke-width="2.1"><line x1="15.3" y1="278.6" x2="47.6" y2="278.6" stroke="#000" /><text x="50.6" y="283.4" class="lg">initial</text><line x1="15.3" y1="299.3" x2="47.6" y2="299.3" stroke="#000" stroke-dasharray="1.6 1.67"/><text x="50.6" y="304.1" class="lg">initial - 8 months</text><line x1="15.3" y1="320.0" x2="47.6" y2="320.0" stroke="#000" stroke-dasharray="6.8 6.2"/><text x="50.6" y="324.8" class="lg">initial - 18 months</text><line x1="15.3" y1="340.8" x2="47.6" y2="340.8" stroke="#000" stroke-dasharray="6.6 1.8 2.6 2"/><text x="50.6" y="345.6" class="lg">initial - 28 months</text><line x1="162.3" y1="278.6" x2="194.4" y2="278.6" stroke="#0000ff" /><text x="197.3" y="285.6" class="lg">1.8 mJ cm<tspan class="sup" dy="-6.8">&#8722;2</tspan></text><line x1="162.3" y1="299.3" x2="194.4" y2="299.3" stroke="#0000ff" stroke-dasharray="1.6 1.67"/><text x="197.3" y="306.3" class="lg">1.8 mJ cm<tspan class="sup" dy="-6.8">&#8722;2</tspan><tspan dy="6.8" dx="1.9"> - 8 months</tspan></text><line x1="162.3" y1="320.0" x2="194.4" y2="320.0" stroke="#0000ff" stroke-dasharray="6.8 6.2"/><text x="197.3" y="327.0" class="lg">1.8 mJ cm<tspan class="sup" dy="-6.8">&#8722;2</tspan><tspan dy="6.8" dx="1.9"> - 18 months</tspan></text><line x1="162.3" y1="340.8" x2="194.4" y2="340.8" stroke="#0000ff" stroke-dasharray="6.6 1.8 2.6 2"/><text x="197.3" y="347.8" class="lg">1.8 mJ cm<tspan class="sup" dy="-6.8">&#8722;2</tspan><tspan dy="6.8" dx="1.9"> - 28 months</tspan></text><line x1="353.4" y1="278.6" x2="384.0" y2="278.6" stroke="#ff0000" /><text x="387.7" y="285.6" class="lg">3.5 mJ cm<tspan class="sup" dy="-6.8">&#8722;2</tspan><tspan dy="6.8" dx="1.9"> - 8 months</tspan></text><line x1="353.4" y1="299.3" x2="384.0" y2="299.3" stroke="#ff0000" stroke-dasharray="1.6 1.67"/><text x="387.7" y="306.3" class="lg">3.5 mJ cm<tspan class="sup" dy="-6.8">&#8722;2</tspan><tspan dy="6.8" dx="1.9"> - 18 months</tspan></text><line x1="353.4" y1="320.0" x2="384.0" y2="320.0" stroke="#ff0000" stroke-dasharray="6.8 6.2"/><text x="387.7" y="327.0" class="lg">3.5 mJ cm<tspan class="sup" dy="-6.8">&#8722;2</tspan><tspan dy="6.8" dx="1.9"> - 18 months</tspan></text><line x1="353.4" y1="340.8" x2="384.0" y2="340.8" stroke="#ff0000" stroke-dasharray="6.6 1.8 2.6 2"/><text x="387.7" y="347.8" class="lg">3.5 mJ cm<tspan class="sup" dy="-6.8">&#8722;2</tspan><tspan dy="6.8" dx="1.9"> - 28 months</tspan></text></g>
</svg>
</body></html>
